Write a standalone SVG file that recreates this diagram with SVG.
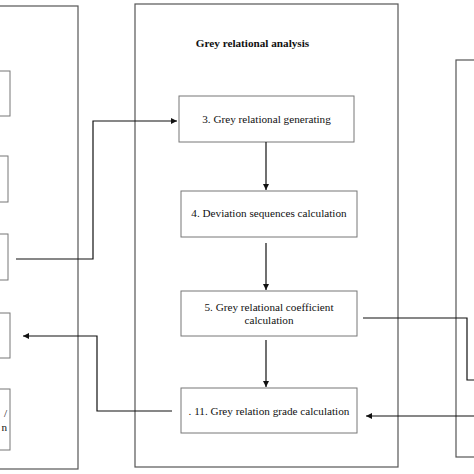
<svg xmlns="http://www.w3.org/2000/svg" width="474" height="474" viewBox="0 0 474 474">
<defs>
<style>
.panel{fill:none;stroke:#555;stroke-width:1.2}
.box{fill:#fff;stroke:#777;stroke-width:1}
.lbl{font-family:"Liberation Serif","Times New Roman",serif;font-size:11.2px;fill:#111;text-anchor:middle}
.title{font-weight:bold}
.conn{fill:none;stroke:#111;stroke-width:1.2}
</style>
<marker id="ah" markerWidth="8" markerHeight="8" refX="6" refY="3" orient="auto" markerUnits="userSpaceOnUse">
<path d="M0,0 L6,3 L0,6 Z" fill="#111"/>
</marker>
</defs>
<rect width="474" height="474" fill="#fff"/>
<g id="left-panel">
<rect class="panel" x="-10" y="6" width="88" height="463"/>
<rect class="box" x="-10" y="71" width="20" height="45"/>
<rect class="box" x="-10" y="156" width="18" height="46"/>
<rect class="box" x="-10" y="234" width="18" height="46"/>
<rect class="box" x="-10" y="313" width="20" height="45"/>
<rect class="box" x="-10" y="389" width="20" height="61"/>
<text class="lbl" x="7" y="417" style="text-anchor:end">/</text>
<text class="lbl" x="7" y="431" style="text-anchor:end">n</text>
</g>
<g id="middle-panel">
<rect class="panel" x="135" y="4" width="263" height="463"/>
<text class="lbl title" x="252.5" y="47">Grey relational analysis</text>
</g>
<g id="right-panel">
<rect class="panel" x="456" y="60" width="30" height="397"/>
</g>
<g id="n3">
<rect class="box" x="179" y="96" width="175" height="46"/>
<text class="lbl" x="266.5" y="123">3. Grey relational generating</text>
</g>
<g id="n4">
<rect class="box" x="181" y="191" width="176" height="46"/>
<text class="lbl" x="269" y="217">4. Deviation sequences calculation</text>
</g>
<g id="n5">
<rect class="box" x="181" y="291" width="176" height="45"/>
<text class="lbl" x="269" y="311">5. Grey relational coefficient</text>
<text class="lbl" x="269" y="324">calculation</text>
</g>
<g id="n11">
<rect class="box" x="181" y="388" width="176" height="45"/>
<text class="lbl" x="269" y="415">. 11. Grey relation grade calculation</text>
</g>
<g id="connectors">
<path class="conn" d="M266,142 V190" marker-end="url(#ah)"/>
<path class="conn" d="M266,243 V290" marker-end="url(#ah)"/>
<path class="conn" d="M266,340 V387" marker-end="url(#ah)"/>
<path class="conn" d="M16,259 H93 V121 H177" marker-end="url(#ah)"/>
<path class="conn" d="M172,411 H97 V336 H23" marker-end="url(#ah)"/>
<path class="conn" d="M363,318 H467 V380 H476"/>
<path class="conn" d="M476,416 H366" marker-end="url(#ah)"/>
</g>
</svg>
